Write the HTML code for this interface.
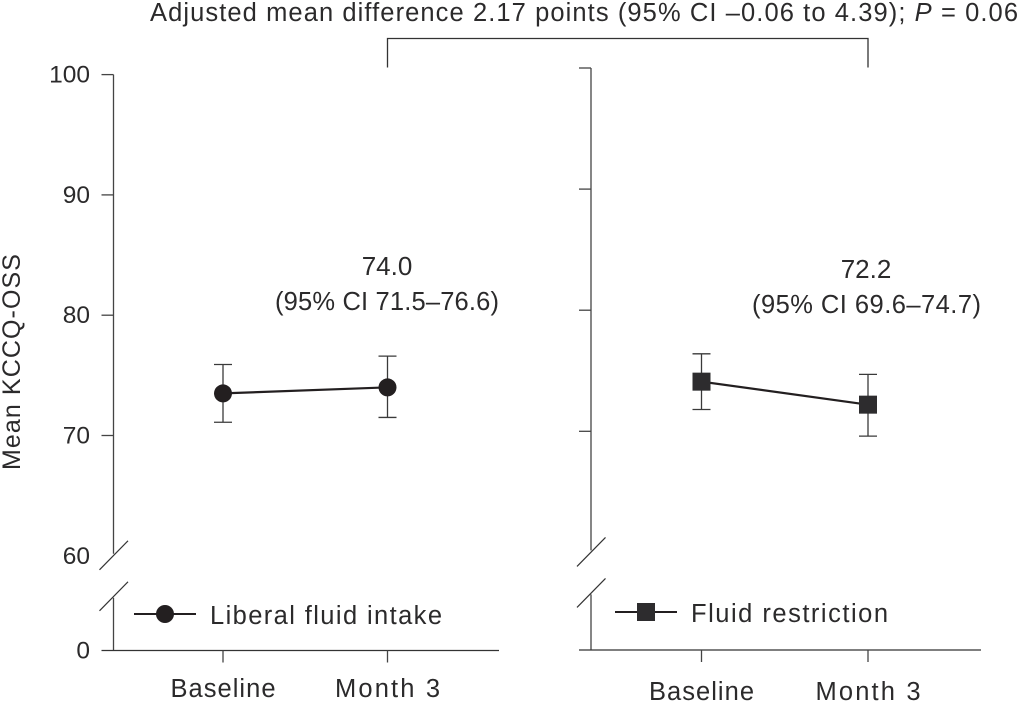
<!DOCTYPE html>
<html lang="en">
<head>
<meta charset="utf-8">
<title>Mean KCCQ-OSS by group</title>
<style>
html,body{margin:0;padding:0;background:#fff;}
body{width:1018px;height:702px;overflow:hidden;}
svg{display:block;}
text{font-family:"Liberation Sans",sans-serif;fill:#2b2a2b;font-size:25.5px;}
</style>
</head>
<body>
<svg id="chart" xmlns="http://www.w3.org/2000/svg" width="1018" height="702" viewBox="0 0 1018 702">
  <text x="150" y="21" textLength="868" lengthAdjust="spacing" style="font-size:25.5px">Adjusted mean difference 2.17 points (95% CI –0.06 to 4.39); <tspan font-style="italic">P</tspan> = 0.06</text>
  <path d="M387.5 67.5V38.5H868V67.5" fill="none" stroke="#333" stroke-width="1.3"/>
  <text transform="translate(20 470) rotate(-90)" textLength="216" lengthAdjust="spacing" style="font-size:25px">Mean KCCQ-OSS</text>
</svg>
<script>
const categories = ["Baseline", "Month 3"];
const yTicks = [100, 90, 80, 70, 60];
const zeroTick = 0;
const liberalMeans = [73.5, 74.0];
const liberalLow = [71.1, 71.5];
const liberalHigh = [75.9, 76.6];
const restrictionMeans = [74.1, 72.2];
const restrictionLow = [71.8, 69.6];
const restrictionHigh = [76.4, 74.7];
const liberalName = "Liberal fluid intake";
const restrictionName = "Fluid restriction";

const svg = document.getElementById('chart');
const INK = '#231f20', AXIS = '#444';

function add(tag, attrs, name, text) {
  const el = document.createElementNS('http://www.w3.org/2000/svg', tag);
  for (const k in attrs) el.setAttribute(k, attrs[k]);
  
  
  if (text !== undefined) el.textContent = text;
  svg.appendChild(el);
  return el;
}
function seg(x1, y1, x2, y2, name, color, width) {
  return add('line', {x1, y1, x2, y2, stroke: color || AXIS, 'stroke-width': width || 1.3}, name);
}

function drawPanel(p) {
  const y = v => p.y70 - (v - 70) * p.unit;
  const x = i => p.x0 + i * p.dx;
  const y60 = y(60);

  // axes
  seg(p.axisX, y(100), p.axisX, y60 - 2, p.id + '-y-axis-upper');
  seg(p.axisX, y60 + 42, p.axisX, p.base, p.id + '-y-axis-lower');
  seg(p.axisX - 12, p.base, p.baseEnd, p.base, p.id + '-x-axis', '#333', 1.3);
  seg(p.axisX - 14, y60 + 14, p.axisX + 14.5, y60 - 15, p.id + '-axis-break-upper', '#333', 1.2);
  seg(p.axisX - 14, y60 + 55, p.axisX + 14.5, y60 + 26, p.id + '-axis-break-lower', '#333', 1.2);

  yTicks.forEach(t => {
    if (t > 60) seg(p.axisX - 12, y(t), p.axisX, y(t), p.id + '-y-tick-' + t);
    if (p.labels) add('text', {x: 90, y: y(t) + 8, 'text-anchor': 'end', style: 'font-size:24.5px'}, 'y-tick-label-' + t, String(t));
  });
  if (p.labels) add('text', {x: 90, y: p.base + 8, 'text-anchor': 'end', style: 'font-size:24.5px'}, 'y-tick-label-' + zeroTick, String(zeroTick));

  categories.forEach((c, i) => {
    seg(x(i), p.base, x(i), p.base + 12, p.id + '-x-tick-' + i);
    add('text', {x: x(i), y: p.catY, 'text-anchor': 'middle', textLength: 105, lengthAdjust: 'spacing'}, p.id + '-x-label-' + i, c);
  });

  // error bars
  categories.forEach((c, i) => {
    seg(x(i), y(p.high[i]), x(i), y(p.low[i]), p.id + '-error-bar-' + i, '#3a3a3a', 1.3);
    seg(x(i) - 9, y(p.high[i]), x(i) + 9, y(p.high[i]), p.id + '-error-cap-high-' + i, '#3a3a3a', 1.3);
    seg(x(i) - 9, y(p.low[i]), x(i) + 9, y(p.low[i]), p.id + '-error-cap-low-' + i, '#3a3a3a', 1.3);
  });
  // connecting line
  seg(x(0), y(p.means[0]), x(1), y(p.means[1]), p.id + '-series-line', INK, 2.2);
  // markers
  const marker = (cx, cy, name) => p.square
    ? add('rect', {x: cx - 9, y: cy - 9, width: 18, height: 18, fill: '#2d2c2e'}, name)
    : add('circle', {cx, cy, r: 9, fill: INK}, name);
  categories.forEach((c, i) => marker(x(i), y(p.means[i]), p.id + '-point-' + i));

  // printed value (last time point)
  const last = categories.length - 1;
  add('text', {x: p.noteX, y: p.noteY, 'text-anchor': 'middle', style: 'font-size:26px'}, p.id + '-month3-value', p.means[last].toFixed(1));
  add('text', {x: p.ciX, y: p.noteY + 35, textLength: p.ciW, lengthAdjust: 'spacing'}, p.id + '-month3-ci',
    '(95% CI ' + p.low[last].toFixed(1) + '–' + p.high[last].toFixed(1) + ')');

  // legend
  seg(p.legX, p.legY, p.legX + 62, p.legY, p.id + '-legend-line', INK, 2);
  marker(p.legX + 31, p.legY, p.id + '-legend-marker');
  add('text', {x: p.legX + 76, y: p.legY + 10, textLength: p.legW, lengthAdjust: 'spacing'}, p.id + '-legend-label', p.name);
}

drawPanel({id: 'liberal', name: liberalName, means: liberalMeans, low: liberalLow, high: liberalHigh,
  axisX: 113.5, y70: 435.5, unit: 12.03, x0: 223, dx: 164.5, base: 650.5, baseEnd: 499, catY: 697,
  labels: true, square: false, noteX: 387, noteY: 275, ciX: 275, ciW: 224, legX: 134, legY: 614, legW: 232});
drawPanel({id: 'restriction', name: restrictionName, means: restrictionMeans, low: restrictionLow, high: restrictionHigh,
  axisX: 591, y70: 431.3, unit: 12.11, x0: 701.5, dx: 166.5, base: 650, baseEnd: 981, catY: 700,
  labels: false, square: true, noteX: 866, noteY: 278, ciX: 752, ciW: 229, legX: 615, legY: 612, legW: 197});
</script>
</body>
</html>
